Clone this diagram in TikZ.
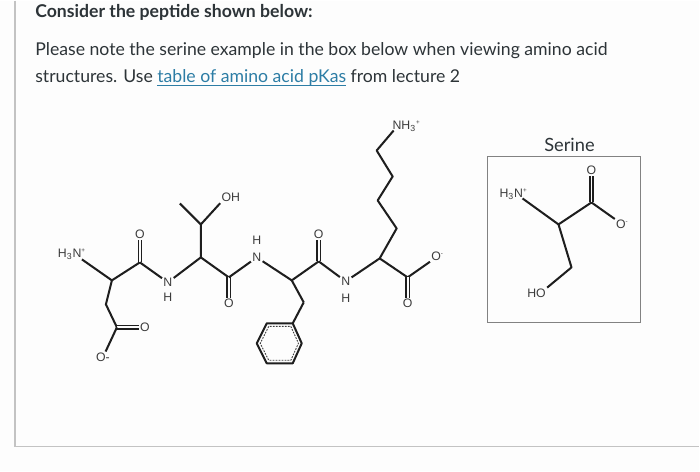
\documentclass[tikz,border=0pt]{standalone}
\usepackage{fontspec}
\setmainfont{Lato}
\newfontfamily\atomfont{Liberation Sans}
\usepackage{tikz}
\usetikzlibrary{positioning}
\usetikzlibrary{calc}
\definecolor{linkblue}{RGB}{45,125,165}
\definecolor{inktext}{RGB}{45,52,56}
\definecolor{atomgray}{RGB}{60,60,60}
\definecolor{bondgray}{RGB}{30,30,30}
\definecolor{rulegray}{RGB}{195,195,195}
\definecolor{boxgray}{RGB}{130,130,130}
\definecolor{paper}{RGB}{253,253,253}
\newcommand{\chg}[1]{\textsuperscript{\fontsize{3.6}{4}\selectfont #1}}

\begin{document}
\begin{tikzpicture}[x=0.02cm, y=-0.02cm]
	\tikzstyle{atom}=[inner sep=0.6pt, font=\atomfont\fontsize{7}{8}\selectfont, text=atomgray]
	\tikzstyle{bond}=[draw=bondgray, line width=1.15pt, line join=round]
	\tikzstyle{dbond}=[bond, double=paper, double distance=1.1pt, line width=0.8pt]
	\tikzstyle{para}=[anchor=base west, inner sep=0pt, font=\fontsize{10.05}{12}\selectfont, text=inktext]
	
	\fill [paper] (0,0) rectangle (700,471);
	\coordinate (railtop) at (15,0);
	\coordinate (railcorner) at (15,446);
	\coordinate (railend) at (700,446);
	\draw [rulegray, line width=0.7pt] (railtop) -- (railcorner) -- (railend);
	
	\node [para, font=\fontsize{10.05}{12}\selectfont\bfseries] (title) at (35,17) {Consider the peptide shown below:};
	\node [para] (note) at (35,55) {Please note the serine example in the box below when viewing amino acid};
	\node [para] (use) at (35,82) {structures. Use \textcolor{linkblue}{\underline{\smash{table of amino acid pKas}}} from lecture 2};
	
	% first residue
	\node [atom] (h3n) at (72,254) {H\textsubscript{3}N\chg{+}};
	\coordinate (n) at (82,259);
	\coordinate (ca) at (112,280);
	\coordinate (c) at (140,262);
	\node [atom] (o) at (140,234) {O};
	\coordinate (cb) at (106,304);
	\coordinate (cg) at (117,327);
	\node [atom] (od) at (145,327) {O};
	\node [atom] (om) at (103,357) {O-};
	\draw [bond] (n) -- (ca) -- (c);
	\draw [dbond] (c) -- (o);
	\draw [bond] (ca) -- (cb) -- (cg);
	\draw [dbond] (cg) -- (od);
	\draw [bond] (cg) -- (om);
	
	% second residue
	\node [atom] (n1) at (168,282) {N};
	\node [atom] (h1) at (168,297) {H};
	\coordinate (ca1) at (201,257);
	\coordinate (cb1) at (201,224);
	\coordinate (me1) at (180,203);
	\node [atom] (oh1) at (231,197) {OH};
	\coordinate (c1) at (229,277);
	\node [atom] (o1) at (229,303) {O};
	\draw [bond] (c) -- (n1) -- (ca1) -- (cb1) -- (me1);
	\draw [bond] (cb1) -- (oh1.south west);
	\draw [bond] (ca1) -- (c1);
	\draw [dbond] (c1) -- (o1);
	
	% third residue
	\node [atom] (n2) at (257,257) {N};
	\node [atom] (h2) at (257,240) {H};
	\coordinate (ca2) at (292,280);
	\coordinate (c2) at (319,261);
	\node [atom] (o2) at (319,234) {O};
	\coordinate (cb2) at (304,302);
	\draw [bond] (c1) -- (n2) -- (ca2) -- (c2);
	\draw [dbond] (c2) -- (o2);
	\draw [bond] (ca2) -- (cb2);
	
	% ring
	\coordinate (r1) at (293,323);
	\coordinate (r2) at (302,343);
	\coordinate (r3) at (293,363);
	\coordinate (r4) at (267,363);
	\coordinate (r5) at (257,343);
	\coordinate (r6) at (267,323);
	\coordinate (mid) at (280,343);
	\draw [bond] (cb2) -- (r1);
	\draw [bond] (r1) -- (r2) -- (r3) -- (r4) -- (r5) -- (r6) -- cycle;
	\draw [atomgray, line width=0.5pt, dash pattern=on 1pt off 0.7pt] ($(mid)!0.85!(r1)$) -- ($(mid)!0.85!(r2)$) -- ($(mid)!0.85!(r3)$) -- ($(mid)!0.85!(r4)$) -- ($(mid)!0.85!(r5)$) -- ($(mid)!0.85!(r6)$) -- cycle;
	
	% last residue
	\node [atom] (n3) at (346,281) {N};
	\node [atom] (h3) at (346,298) {H};
	\coordinate (ca3) at (380,258);
	\coordinate (s1) at (397,228);
	\coordinate (s2) at (378,200);
	\coordinate (s3) at (393,176);
	\coordinate (s4) at (377,150);
	\node [atom] (nh3) at (407,126) {NH\textsubscript{3}\chg{+}};
	\coordinate (s5) at (394,130);
	\coordinate (c3) at (408,277);
	\node [atom] (o3) at (408,303) {O};
	\node [atom] (om3) at (438,256) {O\chg{-}};
	\draw [bond] (c2) -- (n3) -- (ca3) -- (s1) -- (s2) -- (s3) -- (s4) -- (s5);
	\draw [bond] (ca3) -- (c3) -- (om3);
	\draw [dbond] (c3) -- (o3);
	
	% serine box
	\node [font=\fontsize{10.4}{12}\selectfont, text=inktext, inner sep=0pt] (serine) at (570,144) {Serine};
	\node [draw=boxgray, line width=0.6pt, minimum width=3.06cm, minimum height=3.32cm, inner sep=0pt] (box) at (564.5,239) {};
	\node [atom] (sh3n) at (514,194) {H\textsubscript{3}N\chg{+}};
	\coordinate (sn) at (523,198);
	\coordinate (sca) at (559,224);
	\coordinate (sc) at (592,202);
	\node [atom] (so) at (592,170) {O};
	\node [atom] (som) at (623,224) {O\chg{-}};
	\coordinate (scb) at (572,267);
	\node [atom] (sho) at (537,293) {HO};
	\draw [bond] (sn) -- (sca) -- (sc) -- (som);
	\draw [dbond] (sc) -- (so);
	\draw [bond] (sca) -- (scb) -- (sho.north east);
\end{tikzpicture}
\end{document}
